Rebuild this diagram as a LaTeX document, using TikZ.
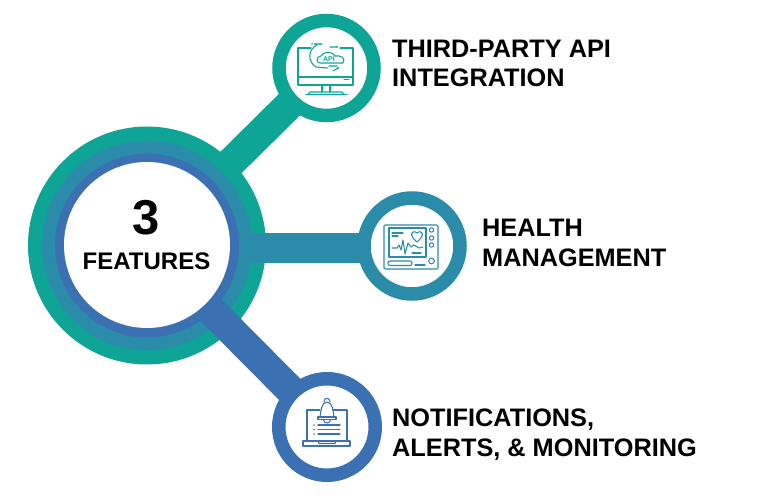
\documentclass[tikz,border=0pt]{standalone}
\usepackage{fontspec}
\setmainfont{Liberation Sans}
\definecolor{tealc}{HTML}{0FA596}
\definecolor{midc}{HTML}{2A8CA8}
\definecolor{bluec}{HTML}{3B70B2}
\pgfdeclarelayer{la}\pgfdeclarelayer{lb}\pgfdeclarelayer{lc}\pgfdeclarelayer{ld}\pgfdeclarelayer{le}
\pgfsetlayers{la,lb,lc,ld,le,main}
\tikzset{
  disc/.style={circle,inner sep=0pt,minimum size=#1},
  sat/.style n args={2}{circle,inner sep=0pt,minimum size=#2,fill=white,draw=#1,line width=13.5pt},
  label/.style={anchor=west,align=left,font=\bfseries\fontsize{25.3}{29.8}\selectfont,text=black,inner sep=0pt},
  bar/.style n args={2}{line width=#2,draw=#1},
  icon/.style={draw=#1,line width=1.05pt,fill=none,line cap=round,line join=round}
}
\begin{document}
\begin{tikzpicture}[x=1pt,y=-1pt]
\useasboundingbox (0,0) rectangle (768,497);
% main rings
\node[disc=166pt,fill=white] (main) at (147,245) {};
\begin{pgfonlayer}{lb}\node[disc=238pt,fill=tealc] (ringa) at (147,245.5) {};\end{pgfonlayer}
\begin{pgfonlayer}{ld}
\node[disc=210pt,fill=midc] (ringb) at (147,245.5) {};
\node[disc=184pt,fill=bluec] (ringc) at (147,245.5) {};
\end{pgfonlayer}
% satellites
\node[sat={tealc}{95pt}] (top) at (326.5,68) {};
\node[sat={midc}{96pt}] (mid) at (412,246) {};
\node[sat={bluec}{96.5pt}] (bot) at (327,427) {};
% connectors
\begin{pgfonlayer}{la}\draw[bar={tealc}{30pt}] (ringa.center) -- (top.center);\end{pgfonlayer}
\begin{pgfonlayer}{lc}\draw[bar={midc}{30pt}] (ringb.center -| ringa.east) ++(-30,2.5) coordinate (mc) -- (mc -| mid.center);\end{pgfonlayer}
\begin{pgfonlayer}{le}\draw[bar={bluec}{30pt}] (ringc.center) -- (bot.center);\end{pgfonlayer}
% central text
\node[font=\bfseries\fontsize{49}{49}\selectfont,inner sep=0pt] (three) at (146.5,218) {3};
\node[font=\bfseries\fontsize{24}{24}\selectfont,inner sep=0pt] (feat) at (146.5,261.5) {FEATURES};
% labels
\node[label] (ltop) at (392,63.5) {THIRD-PARTY API\\INTEGRATION};
\node[label] (lmid) at (482,243) {HEALTH\\MANAGEMENT};
\node[label] (lbot) at (392,435) {NOTIFICATIONS,\\ALERTS, \& MONITORING};
% API icon
\begin{scope}[icon=tealc]
\draw (311,48) -- (298,48) -- (298,85) -- (353,85) -- (353,48) -- (340,48);
\draw (298,77) -- (353,77);
\draw (344,79.5) -- (349,79.5);
\draw (322,85) -- (322,92) (330,85) -- (330,92);
\draw (310,92) -- (342,92) (306,94.5) -- (347,94.5) (310,92) -- (308,94.5) (342,92) -- (344,94.5);
\draw (320,63) .. controls (316,63) and (316,56) .. (321,56) .. controls (323,51) and (333,51) .. (335,56) .. controls (341,55) and (346,58) .. (343,63) -- (320,63);
\draw (317,45) .. controls (307,50) and (308,62) .. (316,67) -- (328,68);
\draw (314,44) -- (322,44) (330,47) -- (336,47) (333,71) -- (338,68) (329,66) -- (337,66);
\fill[tealc] (337,47) circle (1.2) (338,68) circle (1.2) (312,44) circle (0.8) (316,44) circle (0.8) (320,44) circle (0.8);
\node[font=\bfseries\fontsize{7}{7}\selectfont,text=tealc,inner sep=0pt] (apit) at (329,59.5) {API};
\end{scope}
% health icon
\begin{scope}[icon=midc]
\draw[rounded corners=1pt] (384,225) rectangle (438,269);
\draw (389,228) rectangle (426,257);
\draw (392,233) -- (403,233) (392,236) -- (398,236);
\draw (417,242) .. controls (408,235) and (412,229) .. (417,233) .. controls (422,229) and (426,235) .. (417,242);
\draw (392,248) -- (397,248) -- (399,245) -- (401,250) -- (403,240) -- (405,254) -- (408,243) -- (411,247) -- (414,245) -- (419,248) -- (423,247);
\draw (412,253) -- (421,253);
\draw (431.5,230) circle (2.2) (431.5,238) circle (2.2) (431.5,245) circle (2.2) (431.5,261) circle (2.8);
\draw[rounded corners=2pt] (388,261) rectangle (412,265.5);
\draw (415,265) -- (425,265);
\end{scope}
% bell icon
\begin{scope}[icon=bluec]
\draw (320,410) -- (307,410) -- (307,441) (347,441) -- (347,410) -- (333,410);
\draw (303,441) -- (350,441) -- (350,446) -- (303,446) -- cycle;
\draw (318,441) -- (319,443.5) -- (335,443.5) -- (336,441);
\draw (320,417) .. controls (321,411) and (321,403) .. (327,402) .. controls (333,403) and (333,411) .. (334,417);
\draw (318,417) -- (336,417) -- (336,419.5) -- (318,419.5) -- cycle;
\draw (324,402) .. controls (324,397) and (330,397) .. (330,402);
\draw (323.5,420) .. controls (324,424) and (330,424) .. (330.5,420);
\draw (318,425) -- (340,425) (318,429.5) -- (340,429.5) (318,434) -- (340,434);
\fill[bluec] (314,425) circle (0.9) (314,429.5) circle (0.9) (314,434) circle (0.9);
\end{scope}
\end{tikzpicture}
\end{document}
